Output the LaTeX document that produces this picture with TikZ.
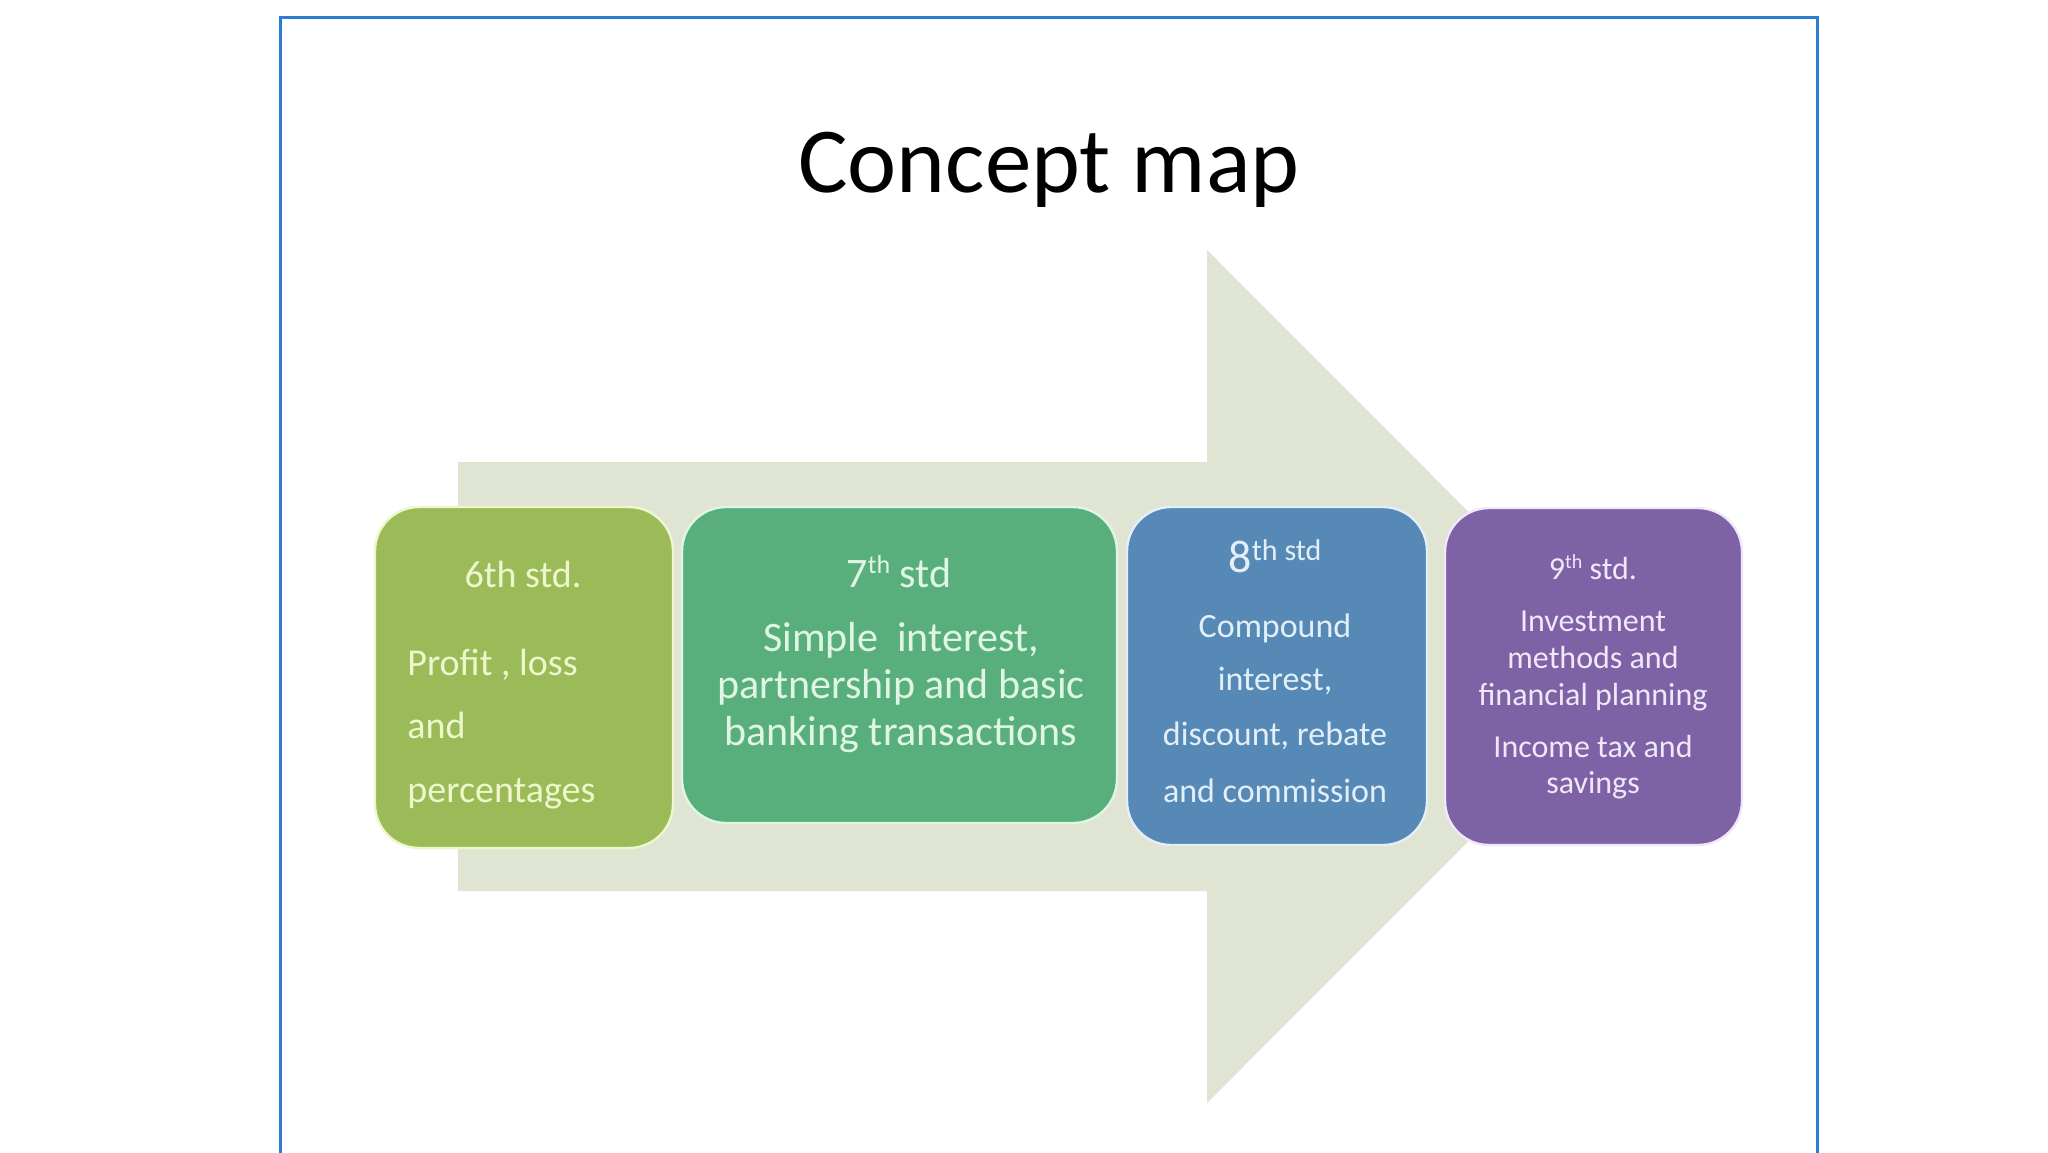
\documentclass[tikz,border=0pt]{standalone}
\usepackage{fontspec}
\setmainfont{Carlito}
\definecolor{framecol}{HTML}{2A7DD1}
\definecolor{arrowcol}{HTML}{DFE5D2}
\definecolor{cA}{HTML}{9BBB59}
\definecolor{cB}{HTML}{58AF7C}
\definecolor{cC}{HTML}{5689B5}
\definecolor{cD}{HTML}{7E62A6}
\definecolor{tA}{HTML}{EEF7CC}
\definecolor{tB}{HTML}{E0F6E4}
\definecolor{tC}{HTML}{E3EFF8}
\definecolor{tD}{HTML}{F0E8F8}
\tikzset{
  stdbox/.style={rectangle, rounded corners=22pt, line width=1.2pt, inner sep=0pt},
  lbl/.style={anchor=base, inner sep=0pt},
}
\begin{document}
\begin{tikzpicture}[x=0.5pt,y=-0.5pt]
\useasboundingbox (0,0) rectangle (2048,1152);
\clip (0,0) rectangle (2048,1152);
\fill[white] (0,0) rectangle (2048,1152);
\draw[framecol, line width=1.5pt] (280,17) rectangle (1817,1220);
\node[lbl, font=\fontsize{46.5}{56}\selectfont] (title) at (1049,192) {Concept map};
% big arrow
\fill[arrowcol] (458,462) -- (1207,462) -- (1207,250) -- (1633,676.5) -- (1207,1103) -- (1207,891) -- (458,891) -- cycle;
% boxes
\node[stdbox, fill=cA, draw=tA, minimum width=149pt, minimum height=170.5pt] (b6) at (524,677.5) {};
\node[stdbox, fill=cB, draw=tB, minimum width=217.5pt, minimum height=158pt] (b7) at (899.5,665) {};
\node[stdbox, fill=cC, draw=tC, minimum width=150pt, minimum height=169pt] (b8) at (1277,676) {};
\node[stdbox, fill=cD, draw=tD, minimum width=148.5pt, minimum height=168.5pt] (b9) at (1593.5,676.5) {};
% box 1 text
\begin{scope}[every node/.style={lbl, text=tA, font=\fontsize{19}{23}\selectfont}]
\node (a0) at (523,587) {6th std.};
\node[anchor=base west] (a1) at (407,675) {Profit , loss};
\node[anchor=base west] (a2) at (407,738) {and};
\node[anchor=base west] (a3) at (407,802) {percentages};
\end{scope}
% box 2 text
\begin{scope}[every node/.style={lbl, text=tB, font=\fontsize{21}{25}\selectfont}]
\node (s0) at (899,587) {7{\fontsize{13}{15}\selectfont\raisebox{7pt}{th}} std};
\node (s1) at (901,651) {Simple\ \ interest,};
\node (s2) at (901,698) {partnership and basic};
\node (s3) at (901,745) {banking transactions};
\end{scope}
% box 3 text
\begin{scope}[every node/.style={lbl, text=tC, font=\fontsize{17}{20}\selectfont}]
\node (e0) at (1275,572) {{\fontsize{23}{26}\selectfont 8}\raisebox{6pt}{\fontsize{15}{18}\selectfont th std}};
\node (e1) at (1275,637) {Compound};
\node (e2) at (1275,690) {interest,};
\node (e3) at (1275,745) {discount, rebate};
\node (e4) at (1275,802) {and commission};
\end{scope}
% box 4 text
\begin{scope}[every node/.style={lbl, text=tD, font=\fontsize{16}{19}\selectfont}]
\node (n0) at (1593,579) {9{\fontsize{10}{12}\selectfont\raisebox{5.5pt}{th}} std.};
\node (n1) at (1593,631) {Investment};
\node (n2) at (1593,668) {methods and};
\node (n3) at (1593,705) {financial planning};
\node (n4) at (1593,757) {Income tax and};
\node (n5) at (1593,793) {savings};
\end{scope}
\end{tikzpicture}
\end{document}
